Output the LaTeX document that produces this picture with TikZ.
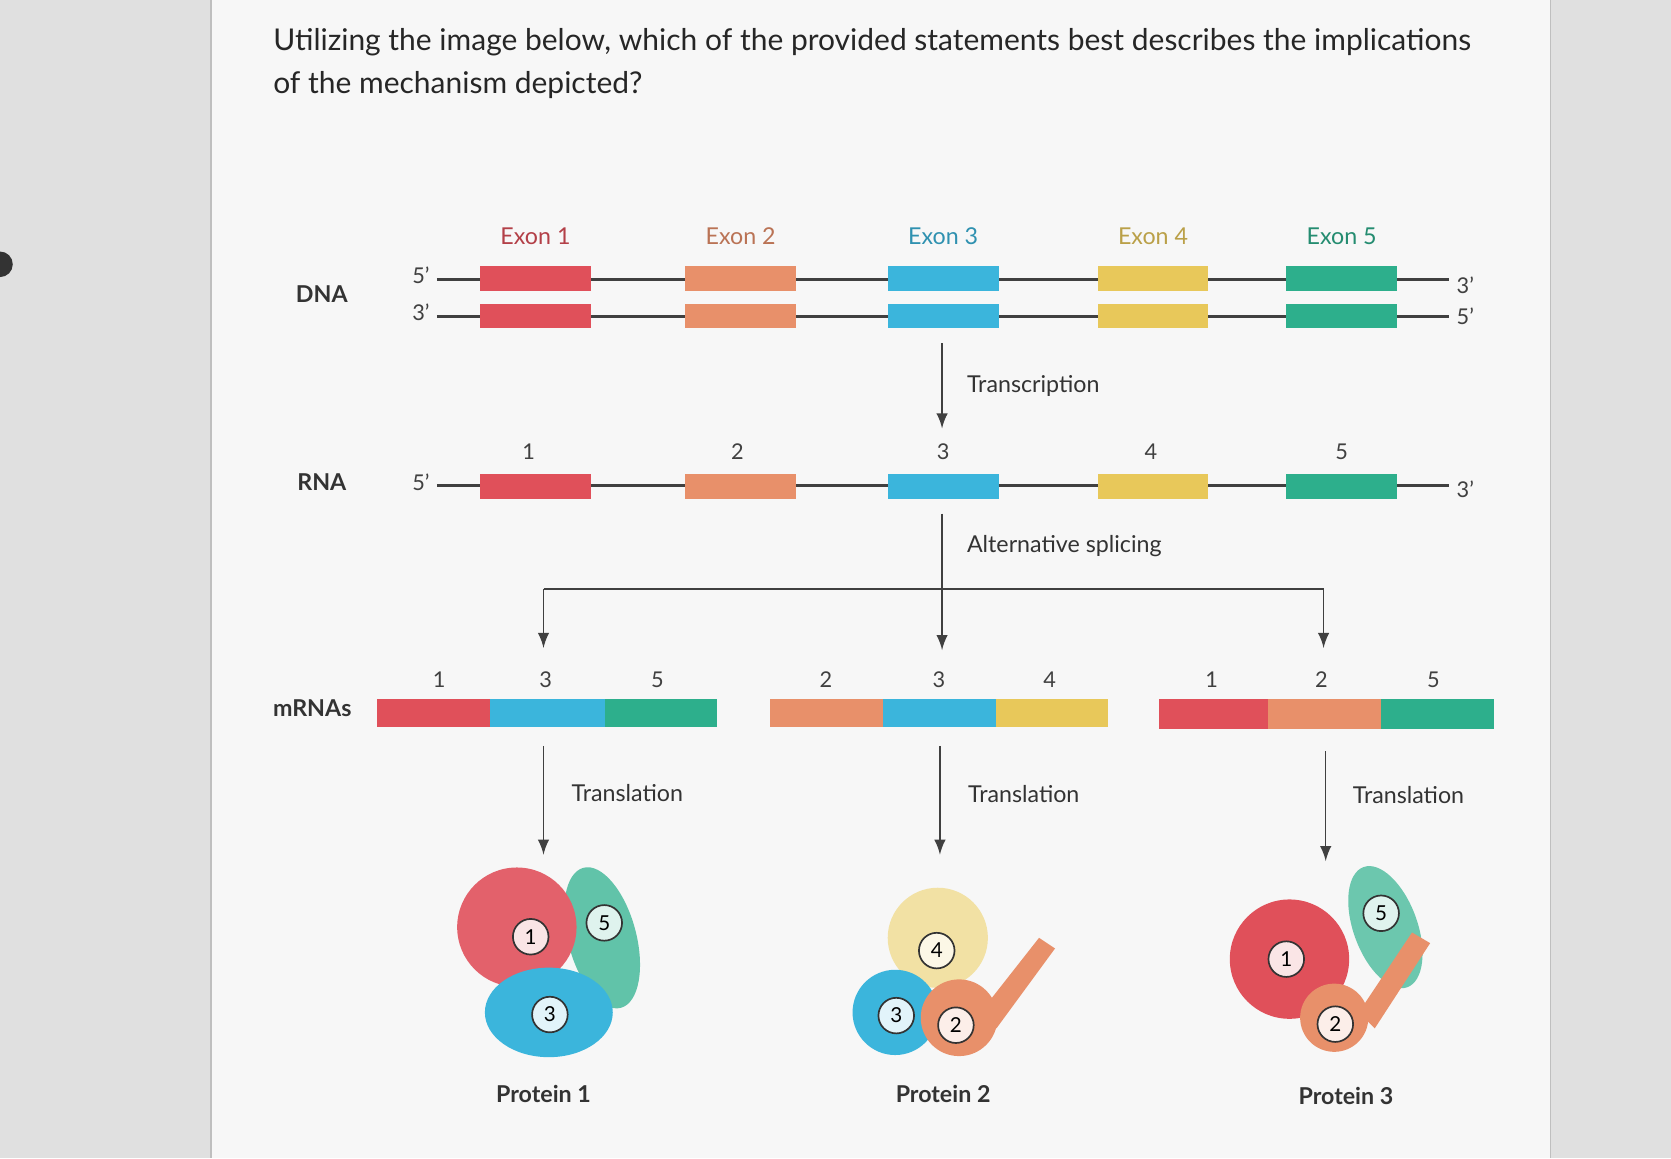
\documentclass[tikz,border=0pt]{standalone}
\usepackage{fontspec}
\setmainfont{Lato}
\begin{document}
\begin{tikzpicture}[x=0.01cm,y=-0.01cm,
  lbl/.style={font=\fontsize{6.2}{7}\selectfont,text=black!80},
  num/.style={font=\fontsize{5.8}{7}\selectfont,text=black!75},
  exl/.style={font=\fontsize{6.2}{7}\selectfont,text=black!75},
  bold/.style={font=\bfseries\fontsize{6.2}{7}\selectfont,text=black!80},
  strand/.style={line width=0.8pt,black!75},
  arr/.style={-latex,line width=0.4pt,black!75},
  badge/.style={circle,draw=black!80,line width=0.45pt,fill=white,inner sep=0pt,minimum size=9.5pt,font=\fontsize{5.5}{6}\selectfont}]
\definecolor{cr}{HTML}{E0505A}\definecolor{co}{HTML}{E8906A}
\definecolor{cb}{HTML}{3BB5DC}\definecolor{cy}{HTML}{E8C85A}
\definecolor{cg}{HTML}{2DAF8C}
\useasboundingbox (0,0) rectangle (1568,1087);
\fill[black!12] (0,0) rectangle (1568,1087);
\fill[white!97!black] (198,0) rectangle (1455,1087);
\draw[black!25] (198,0) -- (198,1087) (1455,0) -- (1455,1087);
\fill[black!80] (0,248) circle (12);
\node[anchor=west,font=\fontsize{8}{11.5}\selectfont,text=black!85,align=left] (title) at (244,60) {Utilizing the image below, which of the provided statements best describes the implications\\of the mechanism depicted?};
% DNA
\node[bold] (dna) at (302,276) {DNA};
\node[num] (t5) at (395,258) {5'};
\node[num] (t3) at (395,293) {3'};
\coordinate (dl1) at (410,262); \coordinate (dr1) at (1360,262);
\coordinate (dl2) at (410,297); \coordinate (dr2) at (1360,297);
\draw[strand] (dl1) -- (dr1); \draw[strand] (dl2) -- (dr2);
\node[num] (e3a) at (1375,268) {3'};
\node[num] (e5a) at (1375,297) {5'};
\foreach \xa/\xb/\c/\n in {450/555/cr/1,643/747/co/2,833/937/cb/3,1030/1134/cy/4,1207/1311/cg/5}{
  \fill[\c] (\xa,250) rectangle (\xb,273);
  \fill[\c] (\xa,285) rectangle (\xb,308);
  \node[exl,text=\c!80!black] at ({(\xa+\xb)/2},222) {Exon \n};
  \fill[\c] (\xa,445) rectangle (\xb,468);
}
% transcription
\coordinate (tr1) at (884,322); \coordinate (tr2) at (884,402);
\draw[arr] (tr1) -- (tr2);
\node[lbl,anchor=west] (trl) at (895,362) {Transcription};
% RNA
\node[bold] (rna) at (302,452) {RNA};
\node[num] (r5) at (395,453) {5'};
\coordinate (rl) at (410,456); \coordinate (rr) at (1360,456);
\draw[strand] (rl) -- (450,456) (555,456) -- (643,456) (747,456) -- (833,456) (937,456) -- (1030,456) (1134,456) -- (1207,456) (1311,456) -- (rr);
\node[num] (r3) at (1375,459) {3'};
\foreach \x/\n in {496/1,692/2,885/3,1080/4,1259/5}{\node[num] at (\x,424) {\n};}
% splicing
\coordinate (s0) at (884,482); \coordinate (s1) at (884,610);
\draw[arr] (s0) -- (s1);
\node[lbl,anchor=west] (asl) at (895,512) {Alternative splicing};
\coordinate (hl) at (510,553); \coordinate (hr) at (1242,553);
\draw[line width=0.5pt,black!75] (hl) -- (hr);
\draw[arr] (hl) -- (510,608);
\draw[arr] (hr) -- (1242,608);
% mRNAs
\node[bold] (mr) at (293,665) {mRNAs};
\fill[cr] (354,656) rectangle (460,682); \fill[cb] (460,656) rectangle (568,682); \fill[cg] (568,656) rectangle (673,682);
\fill[co] (723,656) rectangle (829,682); \fill[cb] (829,656) rectangle (935,682); \fill[cy] (935,656) rectangle (1040,682);
\fill[cr] (1088,656) rectangle (1190,684); \fill[co] (1190,656) rectangle (1296,684); \fill[cg] (1296,656) rectangle (1402,684);
\foreach \x/\n in {412/1,512/3,617/5,775/2,881/3,985/4,1137/1,1240/2,1345/5}{\node[num] at (\x,638) {\n};}
% translation
\draw[arr] (510,700) -- (510,802); \node[lbl,anchor=west] at (524,744) {Translation};
\draw[arr] (882,700) -- (882,802); \node[lbl,anchor=west] at (896,745) {Translation};
\draw[arr] (1244,705) -- (1244,808); \node[lbl,anchor=west] at (1257,746) {Translation};
% protein 1
\fill[cg!75!white] (565,880) ellipse [x radius=32,y radius=68,rotate=15];
\fill[cr!90!white] (485,870) circle (56);
\fill[cb] (515,950) ellipse [x radius=60,y radius=42];
\node[badge,fill=cr!15] (p11) at (498,879) {1};
\node[badge,fill=cg!15] (p15) at (567,866) {5};
\node[badge,fill=cb!15] (p13) at (516,952) {3};
\node[bold] (pr1) at (510,1027) {Protein 1};
% protein 2
\fill[cy!55!white] (880,880) circle (47);
\fill[co] (920,950) -- (975,880) -- (990,890) -- (935,965) -- cycle;
\fill[cb] (840,950) circle (40);
\fill[co] (900,955) circle (36);
\node[badge,fill=cy!15] (p24) at (879,892) {4};
\node[badge,fill=cb!15] (p23) at (841,953) {3};
\node[badge,fill=co!15] (p22) at (897,962) {2};
\node[bold] (pr2) at (885,1027) {Protein 2};
% protein 3
\fill[cg!70!white] (1300,870) ellipse [x radius=30,y radius=60,rotate=20];
\fill[cr] (1210,900) circle (56);
\fill[co] (1275,950) -- (1325,875) -- (1342,885) -- (1290,965) -- cycle;
\fill[co] (1252,955) circle (32);
\node[badge,fill=cr!15] (p31) at (1207,900) {1};
\node[badge,fill=cg!15] (p35) at (1296,857) {5};
\node[badge,fill=co!15] (p32) at (1253,961) {2};
\node[bold] (pr3) at (1263,1028) {Protein 3};
\end{tikzpicture}
\end{document}
